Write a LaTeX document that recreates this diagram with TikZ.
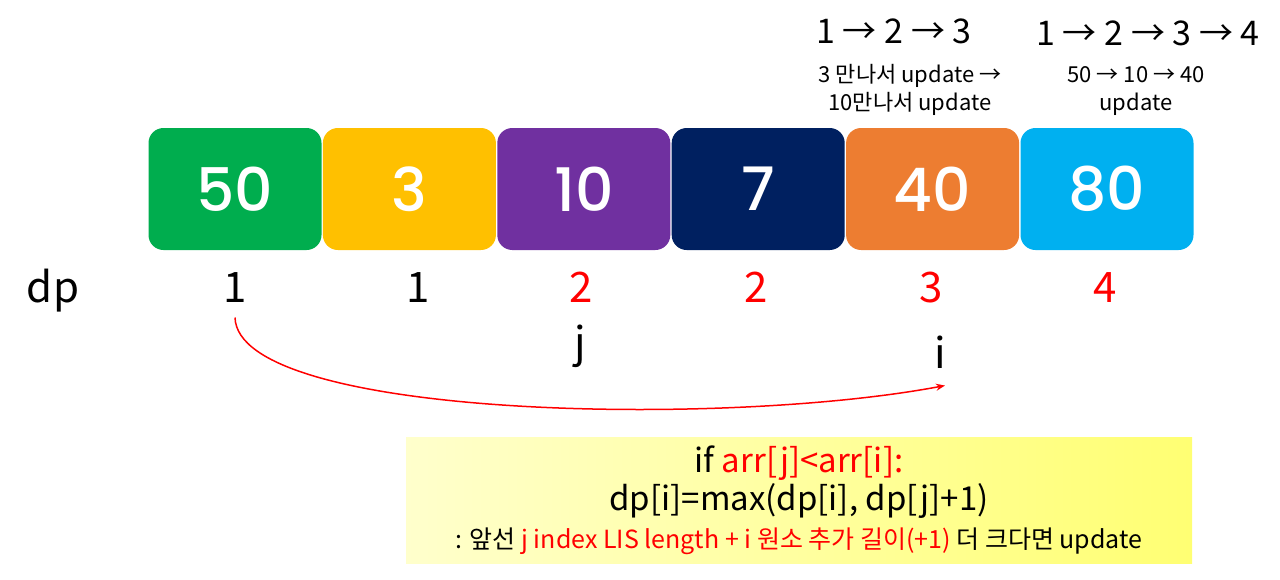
\documentclass[tikz,border=0pt]{standalone}
\usepackage{fontspec}
\setmainfont{Noto Sans CJK KR}
\newfontfamily\numfont{Poppins}[UprightFont={* Medium}]
\usetikzlibrary{calc,positioning,arrows.meta}

\definecolor{cverde}{HTML}{00AD4E}
\definecolor{camarillo}{HTML}{FFC000}
\definecolor{cmorado}{HTML}{7030A0}
\definecolor{cmarino}{HTML}{002060}
\definecolor{cnaranja}{HTML}{ED7D31}
\definecolor{cceleste}{HTML}{00B0F0}

\begin{document}
\begin{tikzpicture}[x=1pt,y=-1pt,
  celda/.style={rounded corners=15pt,minimum width=173pt,minimum height=122pt,inner sep=0pt,text=white,font=\numfont\fontsize{60}{60}\selectfont},
  valor/.style={anchor=base,font=\fontsize{42}{42}\selectfont},
  camino/.style={font=\fontsize{34}{34}\selectfont},
  nota/.style={align=center,font=\fontsize{22}{28}\selectfont}
  ]

  \useasboundingbox (0,0) rectangle (1280,579);

  % array
  \node[celda,fill=cverde] (a1) at (235,189) {50};
  \node[celda,fill=camarillo,right=1pt of a1] (a2) {3};
  \node[celda,fill=cmorado,right=1pt of a2] (a3) {10};
  \node[celda,fill=cmarino,right=1pt of a3] (a4) {7};
  \node[celda,fill=cnaranja,right=1pt of a4] (a5) {40};
  \node[celda,fill=cceleste,right=1pt of a5] (a6) {80};

  % dp
  \node[valor] (dp) at (53,302) {dp};
  \node[valor] (d1) at (235,302) {1};
  \node[valor] (d2) at (418,302) {1};
  \node[valor,text=red] (d3) at (581,302) {2};
  \node[valor,text=red] (d4) at (756,302) {2};
  \node[valor,text=red] (d5) at (931,302) {3};
  \node[valor,text=red] (d6) at (1105,302) {4};

  \node[valor] (j) at (580,357) {j};
  \node[valor] (i) at (940,368) {i};

  % caminos
  \node[camino] (c5) at (894,31) {1 → 2 → 3};
  \node[camino] (c6) at (1148,33) {1 → 2 → 3 → 4};
  \node[nota] (n5) at (910,90) {3 만나서 update →\\10만나서 update};
  \node[nota] (n6) at (1136,91) {50 → 10 → 40\\update};

  \draw[red,line width=1.5pt,-{Stealth[length=9pt,width=7pt]}] (d1.south)+(0,12) .. controls (238,418) and (720,428) .. ($(i.south)+(5,14)$);

  % formula
  \node[left color=yellow!20,right color=yellow!55,minimum width=786pt,minimum height=126pt,align=center,
    font=\fontsize{33}{38}\selectfont] (f) at (799,500)
    {if \textcolor{red}{arr[j]<arr[i]:}\\
     dp[i]=max(dp[i], dp[j]+1)\\
     {\fontsize{25}{25}\selectfont : 앞선 \textcolor{red}{j index LIS length + i 원소 추가 길이(+1)} 더 크다면 update}};

\end{tikzpicture}
\end{document}
